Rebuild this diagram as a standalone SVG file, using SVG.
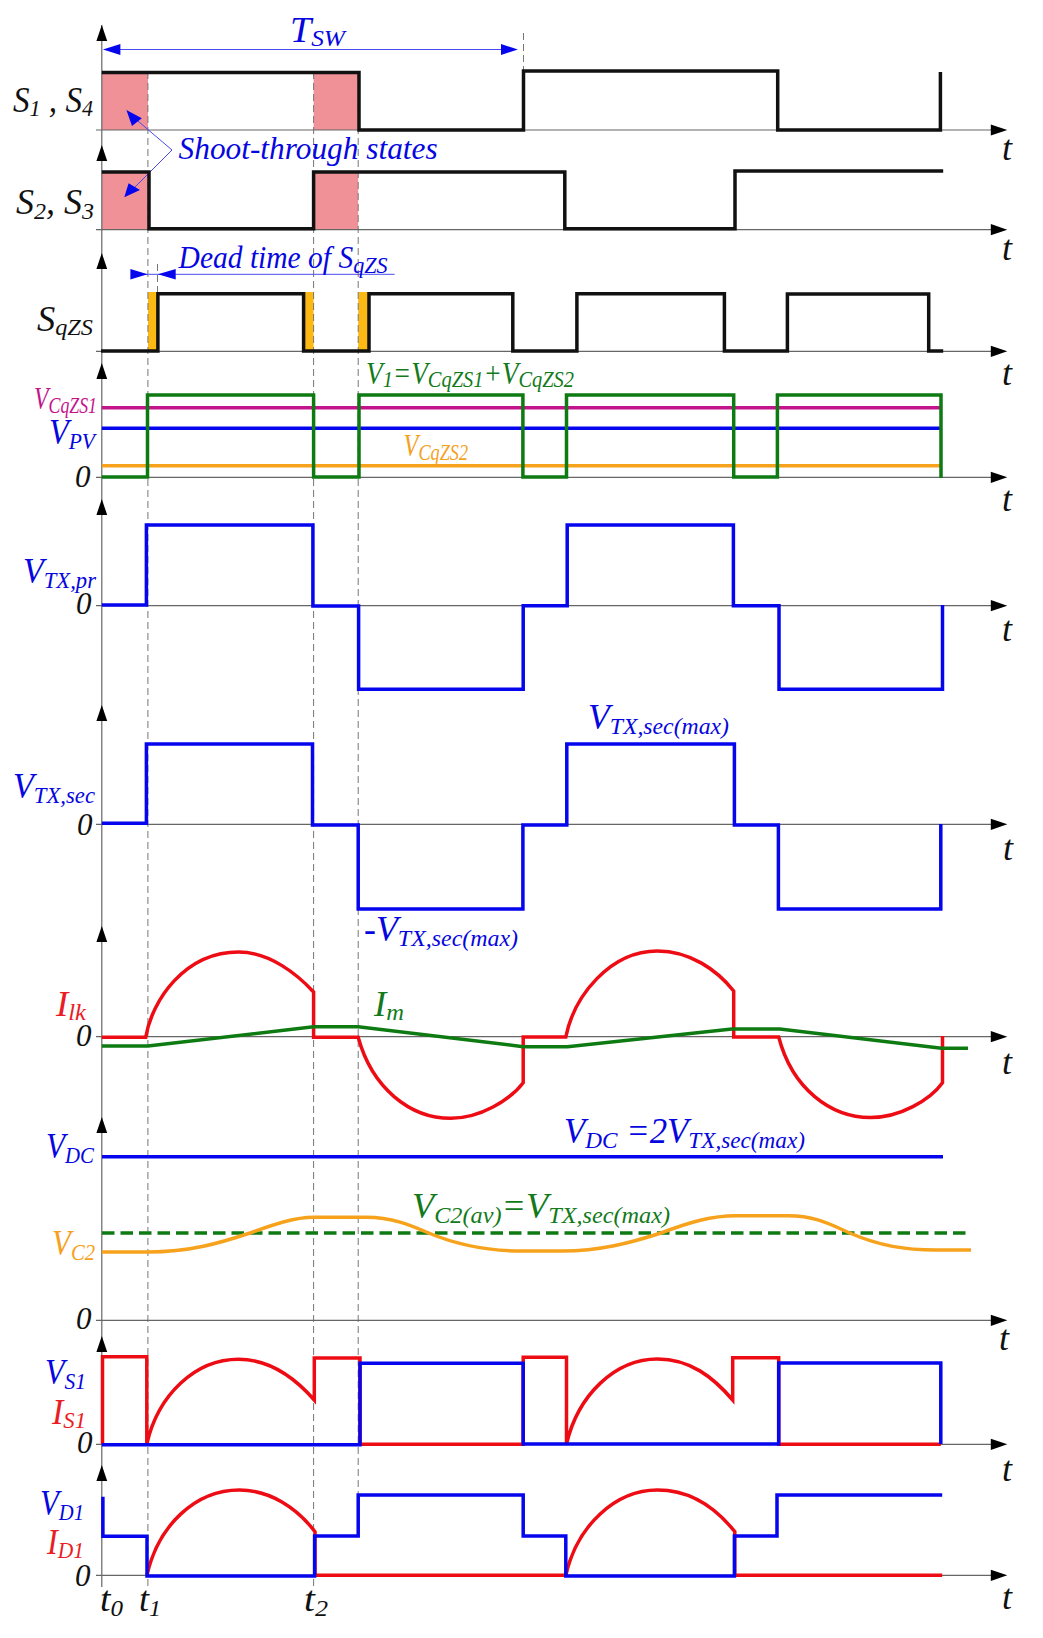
<svg xmlns="http://www.w3.org/2000/svg" xmlns:xlink="http://www.w3.org/1999/xlink" width="1043" height="1638" viewBox="0 0 1043 1638">
<style>
text{font-family:"Liberation Serif","DejaVu Serif",serif;font-style:italic;font-size:36px}
.s{font-size:24px}
.m{font-size:32px}
.z{font-size:31px}
.k{fill:#111}.b{fill:#0606e0}.r{fill:#ea1c24}.g{fill:#127a1a}.o{fill:#f5a11e}.p{fill:#c4148c}
.ax{stroke:#666;stroke-width:1.2;fill:none}
.dv{stroke:#777;stroke-width:1;stroke-dasharray:7 4;fill:none}
.w{fill:none;stroke-width:3.5;stroke-linejoin:miter}
.wk{stroke:#111}.wb{stroke:#0505ee}.wr{stroke:#ee0c14}.wg{stroke:#0d7a12}.wo{stroke:#f7a21c}.wp{stroke:#c4148c}
.pink{fill:#ef9197}.amb{fill:#fdb913}
.thin{stroke:#4a4af0;stroke-width:1;fill:none}
.ah{fill:#0505ee}
</style>
<defs>
<polygon id="up" points="0,0 -5.4,16 5.4,16" fill="#000"/>
<polygon id="rt" points="0,0 -16.5,-5.6 -16.5,5.6" fill="#000"/>
</defs>
<rect width="1043" height="1638" fill="#fff"/>

<g id="fills">
<rect class="pink" x="102" y="72" width="46" height="58"/>
<rect class="pink" x="313.6" y="72" width="45" height="58"/>
<rect class="pink" x="102" y="172" width="46" height="58"/>
<rect class="pink" x="313.6" y="172" width="44.6" height="58"/>
<rect class="amb" x="148" y="292" width="10" height="59"/>
<rect class="amb" x="303.6" y="292" width="10" height="59"/>
<rect class="amb" x="358.2" y="292" width="11" height="59"/>
</g>

<g id="guides">
<path class="dv" d="M147.9 72V1590M313.6 72V1590M358.2 72V1495M523.5 33V70M157.5 264V292"/>
</g>

<g id="axes">
<path class="ax" d="M101.8 25V1587"/>
<path class="ax" d="M96 130H1000M96 229.7H1000M96 351.3H1000M96 477.3H1000M96 605.7H1000M96 824.3H1000M96 1036.7H1000M96 1320.3H1000M96 1444.3H1000M96 1575.3H1000"/>
<use href="#up" x="101.8" y="25"/><use href="#up" x="101.8" y="145"/><use href="#up" x="101.8" y="253"/><use href="#up" x="101.8" y="363"/><use href="#up" x="101.8" y="499"/><use href="#up" x="101.8" y="705"/><use href="#up" x="101.8" y="926"/><use href="#up" x="101.8" y="1117"/><use href="#up" x="101.8" y="1336"/><use href="#up" x="101.8" y="1465"/>
<use href="#rt" x="1007.3" y="130"/><use href="#rt" x="1007.3" y="229.7"/><use href="#rt" x="1007.3" y="351.3"/><use href="#rt" x="1007.3" y="477.3"/><use href="#rt" x="1007.3" y="605.7"/><use href="#rt" x="1007.3" y="824.3"/><use href="#rt" x="1007.3" y="1036.7"/><use href="#rt" x="1007.3" y="1320.3"/><use href="#rt" x="1007.3" y="1444.3"/><use href="#rt" x="1007.3" y="1575.3"/>
</g>

<g id="connectors">
<path class="thin" d="M110 49.5H510"/>
<polygon class="ah" points="102.9,49.5 120.4,44 120.4,55"/>
<polygon class="ah" points="517.9,49.5 501,44 501,55"/>
<path class="thin" d="M132 116L172 150L130 192"/>
<polygon class="ah" points="126.4,110 141.8,118.3 132,126"/>
<polygon class="ah" points="124.3,197.3 128.6,183.3 140,190"/>
<path class="thin" d="M140 274.3H394.6"/>
<polygon class="ah" points="147.5,274.3 130.4,269 130.4,279.6"/>
<polygon class="ah" points="157.9,274.3 175.7,269 175.7,279.6"/>
</g>

<g id="trace-s14"><path class="w wk" d="M101.8 72.5H359V130H523.5V71H777.7V130H940.4V72"/></g>
<g id="trace-s23"><path class="w wk" d="M101.8 172H149V228.7H313.6V172H564.8V228.7H735V171H943.2"/></g>
<g id="trace-sqzs"><path class="w wk" d="M101 351H157.9V293.7H303.6V351H369V293.7H512.8V351H576.9V293.7H724.4V351H787.4V294H928.7V351H943.2"/></g>
<g id="trace-v1">
<path class="w wp" d="M101.8 407.7H940.8"/>
<path class="w wb" d="M101.8 428.3H940.8"/>
<path class="w wo" d="M101.8 465.7H940.8"/>
<path class="w wg" d="M101.8 477H147.5V395H313.6V477H359V395H522.9V477H566.5V395H733.7V477H777.4V395H941V478"/>
</g>
<g id="trace-vpr"><path class="w wb" d="M101.8 605H146.4V525H312.9V606H358.6V689.3H523.2V605.7H567.2V525H733.4V605.7H779V689.3H942.5V605"/></g>
<g id="trace-vsec"><path class="w wb" d="M101.8 823.3H146.4V744H312.5V825H358.2V909H522.9V825H566.8V744H734.4V825H778.4V909H940.8V824"/></g>
<g id="trace-ilk">
<path class="w wr" d="M101.8 1037.3H145.7C152 1000 185 952 238.6 952C270 952 298 975 313.6 992V1037.3H358.2C372 1088 410 1118.3 450.7 1118.3C480 1118.3 510 1100 523.2 1082.7V1037H565.8C574 996 610 951 657.5 951C690 951 717 970 733.7 991V1037H778.7C792 1088 830 1117.5 870.5 1117.5C900 1117.5 930 1100 942.5 1082.7V1036"/>
<path class="w wg" d="M101.8 1046H147.9L313.6 1026.7H358.2L523.2 1046.7H567.5L732 1029H779.8L941.5 1048.3H968"/>
</g>
<g id="trace-dc">
<path class="w wb" d="M102 1156.7H943"/>
<path class="w wg" stroke-dasharray="12.5 6" d="M102 1233H968"/>
<path class="w wo" d="M101.8 1252H147.9C190 1252 220 1243 250 1233C275 1224 295 1217.3 313.6 1217.3H366C392 1217.3 410 1225 428.6 1233C460 1246 490 1251 521.4 1251H562C600 1251 630 1243 661 1233C690 1222 712 1215.7 735.5 1215.7H787.4C815 1215.7 830 1224 849.7 1233C880 1246 905 1250 936.3 1250H971"/>
</g>
<g id="trace-s1">
<path class="w wr" d="M102.5 1444V1356.7H146.8V1444C158 1395 195 1359.3 238.6 1359.3C270 1359.3 295 1378 314.3 1400V1358H360V1444.3H523.2V1357.3H566.5V1444C578 1395 615 1359 657.5 1359C690 1359 713 1377 732.7 1400V1357.7H778.7V1444.3H940.8"/>
<path class="w wb" d="M101.8 1444.7H360V1363.3H523.2V1444H778.7V1363H940.8V1444"/>
</g>
<g id="trace-d1">
<path class="w wr" d="M147 1575C158 1526 195 1490 239.3 1490C270 1490 297 1508 315 1531.7V1575.3H565.8C577 1526 615 1490 657.5 1490C690 1490 716 1508 734.8 1531.7V1575.3H942.2"/>
<path class="w wb" d="M102.9 1496.7V1536.3H147V1576H314.6V1536H358.2V1495H523.2V1536H565.8V1576H734.4V1536H777V1495H942.2"/>
</g>

<g id="labels">
<text class="b" x="290" y="41.5" textLength="55" lengthAdjust="spacingAndGlyphs">T<tspan class="s" dy="4.5">SW</tspan></text>
<text class="k" x="13" y="111.5" textLength="80" lengthAdjust="spacingAndGlyphs">S<tspan class="s" dy="4">1</tspan><tspan dy="-4"> , S</tspan><tspan class="s" dy="4">4</tspan></text>
<text class="k" x="16" y="214" textLength="78" lengthAdjust="spacingAndGlyphs">S<tspan class="s" dy="4.5">2</tspan><tspan dy="-4.5">, S</tspan><tspan class="s" dy="4.5">3</tspan></text>
<text class="k" x="37" y="330.5" textLength="56" lengthAdjust="spacingAndGlyphs">S<tspan class="s" dy="4">qZS</tspan></text>
<text class="b m" x="178.6" y="158.5" textLength="259" lengthAdjust="spacingAndGlyphs">Shoot-through states</text>
<text class="b m" x="178.6" y="268" textLength="209" lengthAdjust="spacingAndGlyphs">Dead time of S<tspan class="s" dy="5">qZS</tspan></text>
<text class="p m" x="34" y="408.5" textLength="63" lengthAdjust="spacingAndGlyphs">V<tspan class="s" dy="4">CqZS1</tspan></text>
<text class="b" x="49" y="443.5" textLength="46" lengthAdjust="spacingAndGlyphs">V<tspan class="s" dy="5">PV</tspan></text>
<text class="k z" x="75" y="486.5">0</text>
<text class="g m" x="366" y="383.5" textLength="208" lengthAdjust="spacingAndGlyphs">V<tspan class="s" dy="3.5">1</tspan><tspan dy="-3.5">=V</tspan><tspan class="s" dy="3.5">CqZS1</tspan><tspan dy="-3.5">+V</tspan><tspan class="s" dy="3.5">CqZS2</tspan></text>
<text class="o m" x="403.6" y="455.5" textLength="64.5" lengthAdjust="spacingAndGlyphs">V<tspan class="s" dy="4">CqZS2</tspan></text>
<text class="b" x="23" y="582.5" textLength="73" lengthAdjust="spacingAndGlyphs">V<tspan class="s" dy="5">TX,pr</tspan></text>
<text class="k z" x="76" y="613.5">0</text>
<text class="b" x="13" y="797.5" textLength="82" lengthAdjust="spacingAndGlyphs">V<tspan class="s" dy="5">TX,sec</tspan></text>
<text class="k z" x="77" y="834.5">0</text>
<text class="b" x="588" y="729" textLength="141" lengthAdjust="spacingAndGlyphs">V<tspan class="s" dy="5">TX,sec(max)</tspan></text>
<text class="b" x="364" y="941" textLength="154" lengthAdjust="spacingAndGlyphs">-V<tspan class="s" dy="5">TX,sec(max)</tspan></text>
<text class="r" x="56" y="1016" textLength="30" lengthAdjust="spacingAndGlyphs">I<tspan class="s" dy="4">lk</tspan></text>
<text class="k z" x="76" y="1046">0</text>
<text class="g" x="374" y="1016" textLength="30" lengthAdjust="spacingAndGlyphs">I<tspan class="s" dy="4">m</tspan></text>
<text class="b" x="46" y="1157.5" textLength="48" lengthAdjust="spacingAndGlyphs">V<tspan class="s" dy="5">DC</tspan></text>
<text class="b" x="564" y="1142.5" textLength="241" lengthAdjust="spacingAndGlyphs">V<tspan class="s" dy="5">DC</tspan><tspan dy="-5"> =2V</tspan><tspan class="s" dy="5">TX,sec(max)</tspan></text>
<text class="g" x="412" y="1217.5" textLength="258" lengthAdjust="spacingAndGlyphs">V<tspan class="s" dy="5">C2(av)</tspan><tspan dy="-5">=V</tspan><tspan class="s" dy="5">TX,sec(max)</tspan></text>
<text class="o" x="52" y="1255" textLength="43" lengthAdjust="spacingAndGlyphs">V<tspan class="s" dy="5">C2</tspan></text>
<text class="k z" x="76" y="1328.5">0</text>
<text class="b" x="45" y="1384" textLength="41" lengthAdjust="spacingAndGlyphs">V<tspan class="s" dy="4.5">S1</tspan></text>
<text class="r" x="52" y="1424" textLength="34" lengthAdjust="spacingAndGlyphs">I<tspan class="s" dy="4">S1</tspan></text>
<text class="k z" x="77" y="1453">0</text>
<text class="b" x="40" y="1515" textLength="44" lengthAdjust="spacingAndGlyphs">V<tspan class="s" dy="5">D1</tspan></text>
<text class="r" x="47" y="1554" textLength="37" lengthAdjust="spacingAndGlyphs">I<tspan class="s" dy="4">D1</tspan></text>
<text class="k z" x="75" y="1585.5">0</text>
<text class="k" x="100" y="1611" textLength="23" lengthAdjust="spacingAndGlyphs">t<tspan class="s" dy="4.5">0</tspan></text>
<text class="k" x="139" y="1611" textLength="22" lengthAdjust="spacingAndGlyphs">t<tspan class="s" dy="4.5">1</tspan></text>
<text class="k" x="304" y="1611" textLength="24" lengthAdjust="spacingAndGlyphs">t<tspan class="s" dy="4.5">2</tspan></text>
<text class="k" x="1002" y="160">t</text>
<text class="k" x="1002" y="260">t</text>
<text class="k" x="1002" y="385">t</text>
<text class="k" x="1002" y="510.7">t</text>
<text class="k" x="1002" y="640.7">t</text>
<text class="k" x="1003" y="860">t</text>
<text class="k" x="1002" y="1074">t</text>
<text class="k" x="999" y="1350">t</text>
<text class="k" x="1002" y="1480.7">t</text>
<text class="k" x="1002" y="1609.3">t</text>
</g>
</svg>
